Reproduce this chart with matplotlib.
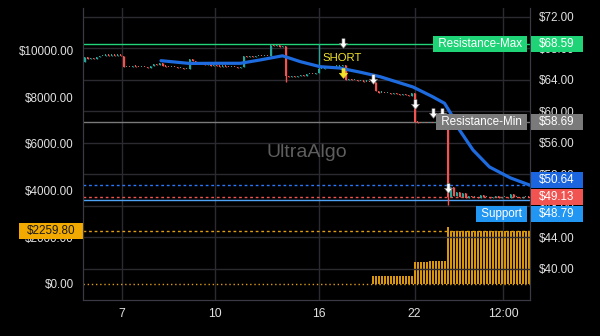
import numpy as np
import matplotlib.pyplot as plt
from matplotlib.path import Path
from matplotlib.patches import Rectangle
from matplotlib.transforms import blended_transform_factory

plt.rcParams['font.family'] = ['Liberation Sans', 'DejaVu Sans']

# candle closes, one per bar (open = previous close)
first_open = 66.3
closes = [
    66.9, 66.7, 66.8, 66.7, 66.9, 67.0, 67.1, 67.2, 67.1, 67.2, 67.1, 67.2, 67.1,
    65.6,
    65.7, 65.6, 65.8, 65.7, 65.6, 65.7, 65.6, 65.5,
    65.8, 66.0, 65.9, 66.1, 65.8,
    65.7, 65.6, 65.7, 65.6, 65.5, 65.5, 65.4, 65.4,
    66.7,
    66.4, 66.2, 66.3,
    66.0, 65.9, 66.0, 65.8, 65.9, 65.8, 65.7, 65.8, 65.7, 65.6, 65.7, 65.6, 65.5, 65.6,
    67.0,
    66.9, 67.0, 66.9, 67.0, 67.1, 67.0, 67.1, 67.0,
    68.4,
    68.3, 68.4, 68.2, 68.3,
    64.5,
    64.4, 64.5, 64.4, 64.5, 64.6, 64.5, 64.7, 64.8, 64.7, 64.9,
    65.4,
    65.4, 65.5, 65.5, 65.6, 65.7, 65.7, 65.8, 65.9,
    64.0,
    64.1, 64.0, 64.0, 63.9, 63.9, 63.8, 63.8, 63.7, 63.8,
    62.6,
    62.4, 62.4, 62.3, 62.3, 62.2, 62.3, 62.2, 62.1, 62.2, 62.1, 62.0, 62.3,
    58.7,
    58.6, 58.5, 58.6, 58.5, 58.6, 58.5, 58.5, 58.6, 58.5, 58.6,
    49.1,
    50.4, 49.3, 49.8, 49.1, 49.6, 49.0, 49.3, 49.1, 49.2, 49.0, 49.4, 49.1, 49.2,
    49.0, 49.1, 49.3, 49.0, 49.1, 49.2, 49.0, 49.5, 49.1, 49.2, 49.0, 49.1, 49.2, 49.13,
]
spike_idx = [67, 78, 121]
spike_hi = [68.3, 68.6, 58.6]
spike_lo = [63.8, 64.9, 48.1]

# moving average line (bar index, price)
ma_idx = [25.5, 35, 45, 52, 58.5, 66, 72, 78.5, 85, 92, 98.5, 109.5, 116, 120,
          122, 125, 129.5, 135, 142, 148.5]
ma_vals = [66.45, 66.10, 66.12, 66.12, 66.54, 67.07, 66.32, 65.69, 65.52, 64.98,
           64.42, 63.11, 61.88, 61.04, 59.81, 57.65, 55.11, 52.95, 51.56, 50.64]

# strategy profit histogram (left scale)
pnl_first = 96
pnl_vals = [340, 340, 340, 340, 340, 340, 340, 340, 340, 340, 340, 340, 340, 340,
            940, 940, 940, 940, 940,
            985, 985, 985, 985, 985, 985,
            2450,
            2259.8, 2259.8, 2259.8, 2259.8, 2259.8, 2259.8, 2259.8, 2259.8, 2259.8,
            2259.8, 2259.8, 2259.8, 2259.8, 2259.8, 2259.8, 2259.8, 2259.8, 2259.8,
            2259.8, 2259.8, 2259.8, 2259.8, 2259.8, 2259.8, 2259.8, 2259.8, 2259.8]

res_max = 68.59
res_min = 58.69
support = 48.79
ma_last = 50.64
last_close = 49.13
pnl_last = 2259.80

signal_idx = [86, 96, 110, 116, 119, 121]
signal_px = [68.7, 64.1, 60.9, 59.8, 59.8, 50.3]
short_idx = 86
short_px = 64.9
short_text_px = 66.8

xtick_pos = [12.5, 43.5, 78, 110, 139.5]
xtick_labels = ['7', '10', '16', '22', '12:00']
price_ticks = [40, 44, 48, 52, 56, 60, 64, 68, 72]
pnl_ticks = [0, 2000, 4000, 6000, 8000, 10000]

GREEN = '#26a69a'
RED = '#f05350'
GRID = '#2a2a30'
TXT = '#e0e0e0'
FS = 8.4

fig = plt.figure(figsize=(6, 3.36), dpi=100, facecolor='black')
ax = fig.add_axes([83 / 600, 36 / 336, 447 / 600, 292 / 336])
ax.set_facecolor('black')
axp = ax.twinx()

n = len(closes)
ax.set_xlim(-0.5, 148.5)
ax.set_ylim(-685, 11810)
axp.set_ylim(36.06, 73.14)

# grid
ax.set_xticks(xtick_pos)
ax.set_xticklabels(xtick_labels)
ax.grid(axis='x', color=GRID, lw=1)
ax.set_axisbelow(True)
axp.set_yticks(price_ticks)
axp.set_yticklabels(['$%.2f' % v for v in price_ticks])
axp.grid(axis='y', color=GRID, lw=1)
ax.set_yticks(pnl_ticks)
ax.set_yticklabels(['$%.2f' % v for v in pnl_ticks])

for a in (ax, axp):
    for s in a.spines.values():
        s.set_color('#3a3a44')
    a.spines['top'].set_visible(False)
ax.tick_params(axis='both', length=0, colors=TXT, labelsize=FS)
ax.tick_params(axis='y', pad=6.5)
ax.tick_params(axis='x', pad=6, labelsize=8.8)
axp.tick_params(axis='y', length=0, colors=TXT, labelsize=FS, pad=6.5)

# profit histogram (2 px columns with 1 px gaps)
ax.axhline(0, color='#e09c12', lw=1, ls=(0, (1, 2)), zorder=1)
ax.axhline(pnl_last, color='#e09c12', lw=1, ls=(0, (2, 2)), zorder=1)
ax.vlines(np.arange(pnl_first, pnl_first + len(pnl_vals)), 0, pnl_vals,
          colors='#d8960c', lw=1.44, zorder=2, antialiased=False)

# watermark
axp.text(0.5, 0.505, 'UltraAlgo', transform=axp.transAxes, ha='center', va='center',
         fontsize=14, color='#5e5e5e', zorder=1)

# levels
axp.axhline(res_max, color='#22d47a', lw=1, zorder=2)
axp.axhline(res_min, color='#7a7a7a', lw=1, zorder=2)
axp.axhline(support, color='#4fa3f7', lw=1, zorder=2)
axp.axhline(ma_last, color='#2979ff', lw=1, ls=(0, (2, 2)), zorder=2)
axp.axhline(last_close, color=RED, lw=1, ls=(0, (2, 2)), zorder=2)

# candles
x = np.arange(n)
c = np.array(closes)
o = np.r_[first_open, c[:-1]]
hi = np.maximum(o, c)
lo = np.minimum(o, c)
for k, h, l in zip(spike_idx, spike_hi, spike_lo):
    hi[k] = max(hi[k], h)
    lo[k] = min(lo[k], l)
col = np.where(c >= o, GREEN, RED)
axp.vlines(x, lo, hi, colors=col, lw=1, zorder=3)
body = np.maximum(np.abs(c - o), 0.14)
axp.bar(x, body, bottom=np.minimum(o, c), width=0.6, color=col, lw=0, zorder=3)

# moving average
axp.plot(ma_idx, ma_vals, color='#1e6be0', lw=2.3, zorder=4, solid_capstyle='round')

# signal arrows
arrow = Path([(-0.32, 1.0), (0.32, 1.0), (0.32, 0.05), (0.85, 0.05), (0.0, -1.0),
              (-0.85, 0.05), (-0.32, 0.05), (-0.32, 1.0)],
             [Path.MOVETO] + [Path.LINETO] * 6 + [Path.CLOSEPOLY])
axp.plot(signal_idx, signal_px, ls='none', marker=arrow, ms=7, mfc='white',
         mec='#666666', mew=0.4, zorder=5)
axp.plot([short_idx], [short_px], ls='none', marker=arrow, ms=7, mfc='#f2e32a',
         mec='#f2e32a', mew=0.4, zorder=5)
axp.text(short_idx, short_text_px, 'SHORT', color='#f2e32a', ha='center', va='center',
         fontsize=8.2, zorder=5)

# right-side tags, stacked around the last price like TradingView does
px_unit = 292 / (73.14 - 36.06)
gap = 17 / px_unit
tag_vals = [res_max, res_min, ma_last, last_close, support]
tag_cols = ['#1fd477', '#7a7a7a', '#1b66de', RED, '#2196f3']
tag_names = ['Resistance-Max', 'Resistance-Min', None, None, 'Support']
anchor = 3
order = sorted(range(len(tag_vals)), key=lambda k: -tag_vals[k])
pos = list(tag_vals)
a_pos = order.index(anchor)
for j in range(a_pos - 1, -1, -1):
    k, prev = order[j], order[j + 1]
    pos[k] = max(tag_vals[k], pos[prev] + gap)
for j in range(a_pos + 1, len(order)):
    k, prev = order[j], order[j - 1]
    pos[k] = min(tag_vals[k], pos[prev] - gap)

tr = blended_transform_factory(axp.transAxes, axp.transData)
h = 16.5 / px_unit
for v, y, fc, name in zip(tag_vals, pos, tag_cols, tag_names):
    axp.add_patch(Rectangle((1 + 1 / 447, y - h / 2), 52 / 447, h, transform=tr,
                            fc=fc, ec='none', clip_on=False, zorder=6))
    axp.text(1 + 27 / 447, y, '$%.2f' % v, transform=tr, ha='center', va='center',
             color='white', fontsize=FS, zorder=7, clip_on=False)
    if name:
        axp.text(1 - 5 / 447, y, ' %s ' % name, transform=tr, ha='right', va='center',
                 color='white', fontsize=FS, zorder=7,
                 bbox=dict(boxstyle='square,pad=0.16', fc=fc, ec='none'))

# left profit tag
trl = blended_transform_factory(ax.transAxes, ax.transData)
hl = 16.5 * (11810 + 685) / 292
ax.add_patch(Rectangle((-64 / 447, pnl_last - hl / 2), 64 / 447, hl, transform=trl,
                       fc='#f2aa00', ec='none', clip_on=False, zorder=6))
ax.text(-32 / 447, pnl_last, '$%.2f' % pnl_last, transform=trl, ha='center',
        va='center', color='#1a1a1a', fontsize=FS, zorder=7, clip_on=False)

fig.savefig('out.png', dpi=100, facecolor='black')
